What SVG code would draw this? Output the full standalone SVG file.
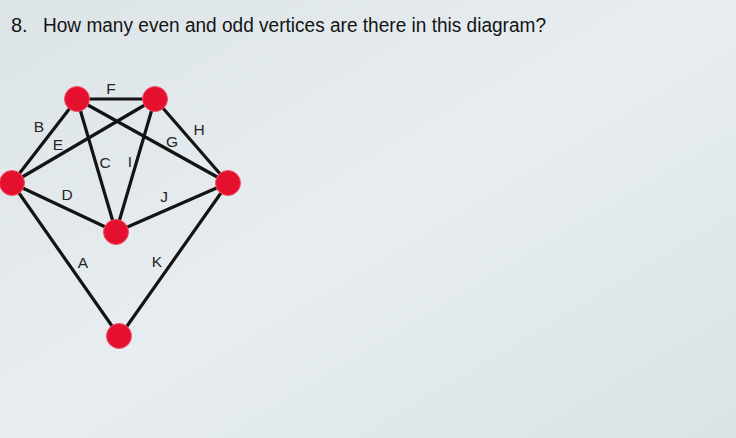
<svg xmlns="http://www.w3.org/2000/svg" width="736" height="438" viewBox="0 0 736 438">
<defs>
<linearGradient id="bg" x1="0" y1="0" x2="1" y2="1">
<stop offset="0" stop-color="#dde4e8"/>
<stop offset="0.5" stop-color="#e7edf0"/>
<stop offset="1" stop-color="#dbe3e7"/>
</linearGradient>
</defs>
<style>
.edge{stroke:#141414;stroke-width:3.2;stroke-linecap:round;fill:none}
.node{fill:#e5102d;stroke:#f0506a;stroke-width:1}
.lbl{font-family:"Liberation Sans",Arial,sans-serif;font-size:15.5px;fill:#252525;text-anchor:middle}
.title{font-family:"Liberation Sans",Arial,sans-serif;font-size:20px;fill:#141414}
</style>
<rect width="736" height="438" fill="url(#bg)"/>
<text class="title" x="11" y="32">8.</text>
<text class="title" x="43" y="32" textLength="503" lengthAdjust="spacingAndGlyphs">How many even and odd vertices are there in this diagram?</text>
<g id="connectors">
<line class="edge" x1="77" y1="99" x2="155" y2="99"/>
<line class="edge" x1="77" y1="99" x2="12" y2="183"/>
<line class="edge" x1="77" y1="99" x2="116" y2="232"/>
<line class="edge" x1="77" y1="99" x2="228" y2="183"/>
<line class="edge" x1="155" y1="99" x2="12" y2="183"/>
<line class="edge" x1="155" y1="99" x2="116" y2="232"/>
<line class="edge" x1="155" y1="99" x2="228" y2="183"/>
<line class="edge" x1="12" y1="183" x2="116" y2="232"/>
<line class="edge" x1="116" y1="232" x2="228" y2="183"/>
<line class="edge" x1="12" y1="183" x2="119" y2="336"/>
<line class="edge" x1="228" y1="183" x2="120" y2="336"/>
</g>
<g id="edge-labels">
<text class="lbl" x="111" y="94">F</text>
<text class="lbl" x="39" y="132">B</text>
<text class="lbl" x="58" y="150">E</text>
<text class="lbl" x="105" y="168">C</text>
<text class="lbl" x="130" y="167">I</text>
<text class="lbl" x="172" y="147">G</text>
<text class="lbl" x="199" y="135">H</text>
<text class="lbl" x="67" y="200">D</text>
<text class="lbl" x="164" y="202">J</text>
<text class="lbl" x="83" y="268">A</text>
<text class="lbl" x="157" y="267">K</text>
</g>
<g id="node-TL"><circle class="node" cx="77" cy="99" r="12.5"/></g>
<g id="node-TR"><circle class="node" cx="155" cy="99" r="12.5"/></g>
<g id="node-L"><circle class="node" cx="12" cy="183" r="12.5"/></g>
<g id="node-R"><circle class="node" cx="228" cy="183" r="12.5"/></g>
<g id="node-M"><circle class="node" cx="116" cy="232" r="12.5"/></g>
<g id="node-B"><circle class="node" cx="119" cy="336" r="12.5"/></g>
</svg>
